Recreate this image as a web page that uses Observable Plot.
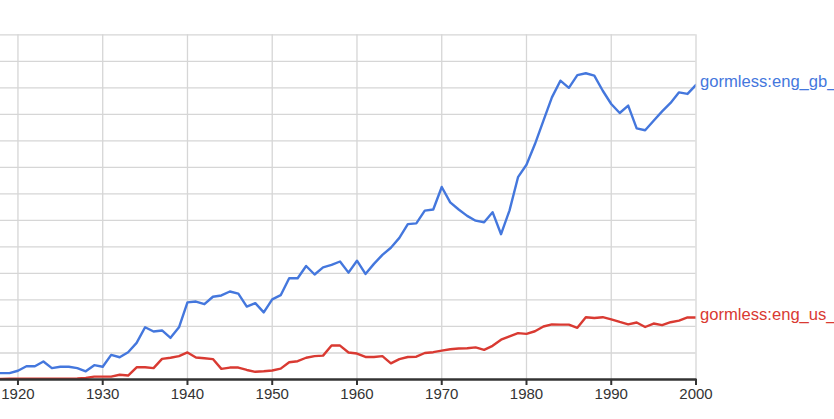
<!DOCTYPE html>
<html>
<head>
<meta charset="utf-8">
<script src="https://cdn.jsdelivr.net/npm/d3@7"></script>
<script src="https://cdn.jsdelivr.net/npm/@observablehq/plot@0.6"></script>
<style>
  html, body { margin: 0; padding: 0; background: #fff; overflow: hidden; }
  #chart svg { display: block; }
</style>
</head>
<body>
<div id="chart"></div>
<script>
const years = d3.range(1917, 2001);
const gbValues = [
  0.24, 0.24, 0.24, 0.33, 0.50, 0.50, 0.68, 0.43, 0.48, 0.48,
  0.43, 0.31, 0.54, 0.48, 0.93, 0.84, 1.03, 1.38, 1.97, 1.81,
  1.85, 1.57, 1.97, 2.91, 2.94, 2.84, 3.12, 3.17, 3.32, 3.24,
  2.75, 2.88, 2.53, 3.02, 3.18, 3.82, 3.82, 4.28, 3.96, 4.23,
  4.32, 4.45, 4.03, 4.48, 3.98, 4.36, 4.70, 4.97, 5.34, 5.86,
  5.89, 6.37, 6.41, 7.26, 6.68, 6.41, 6.17, 5.99, 5.93, 6.31,
  5.48, 6.38, 7.63, 8.10, 8.88, 9.76, 10.64, 11.27, 11.00, 11.48,
  11.55, 11.46, 10.89, 10.39, 10.05, 10.33, 9.47, 9.40, 9.76, 10.11,
  10.43, 10.83, 10.77, 11.11
];
const usValues = [
  0.02, 0.02, 0.03, 0.03, 0.03, 0.03, 0.03, 0.03, 0.03, 0.03,
  0.04, 0.06, 0.11, 0.11, 0.11, 0.18, 0.15, 0.46, 0.46, 0.43,
  0.78, 0.82, 0.88, 1.02, 0.83, 0.80, 0.77, 0.40, 0.45, 0.45,
  0.36, 0.29, 0.31, 0.34, 0.41, 0.65, 0.69, 0.82, 0.88, 0.90,
  1.28, 1.28, 1.02, 0.98, 0.85, 0.85, 0.88, 0.61, 0.77, 0.85,
  0.86, 1.00, 1.03, 1.09, 1.14, 1.17, 1.18, 1.21, 1.12, 1.27,
  1.50, 1.63, 1.75, 1.72, 1.82, 2.00, 2.08, 2.07, 2.07, 1.95,
  2.35, 2.32, 2.35, 2.27, 2.17, 2.08, 2.15, 1.98, 2.11, 2.05,
  2.16, 2.22, 2.34, 2.34
];
const seriesNames = ["gormless:eng_gb_2012", "gormless:eng_us_2012"];
const seriesColors = ["#4477dd", "#d93a32"];
const xTicks = [1920, 1930, 1940, 1950, 1960, 1970, 1980, 1990, 2000];
const yGrid = d3.range(1, 14);
const xStart = 1917.94, xEnd = 2000;

const rows = [];
[gbValues, usValues].forEach((vals, i) => {
  vals.forEach((v, j) => rows.push({year: years[j], value: v, series: seriesNames[i]}));
});
const lastRows = seriesNames.map((s, i) => ({
  year: years[years.length - 1],
  value: [gbValues, usValues][i][years.length - 1],
  series: s
}));

const chart = Plot.plot({
  width: 834,
  height: 419,
  marginLeft: 0,
  marginRight: 138.5,
  marginTop: 34.3,
  marginBottom: 40,
  style: {fontFamily: "Liberation Sans, Arial, sans-serif", background: "#fff", overflow: "hidden"},
  x: {domain: [xStart, xEnd], axis: null},
  y: {domain: [0, 13], axis: null},
  color: {domain: seriesNames, range: seriesColors},
  marks: [
    Plot.ruleY(yGrid, {x1: xStart, x2: xEnd, stroke: "#d6d6d6", strokeWidth: 1.3}),
    Plot.ruleX(xTicks, {y1: 0, y2: 13, stroke: "#d6d6d6", strokeWidth: 1.3}),
    Plot.line(rows, {x: "year", y: "value", z: "series", stroke: "series", strokeWidth: 2.4, clip: true}),
    Plot.ruleY([0], {x1: xStart, x2: xEnd + 0.12, stroke: "#333", strokeWidth: 2.6}),
    Plot.axisX({ticks: xTicks, tickFormat: d => String(d), tickSize: 6, strokeWidth: 2, stroke: "#333",
      tickPadding: 3, fontSize: 15, color: "#333", anchor: "bottom", label: null}),
    Plot.text(lastRows, {x: "year", y: "value", text: "series", fill: "series", textAnchor: "start",
      dx: 4, dy: -3, fontSize: 16.6})
  ]
});
document.getElementById("chart").appendChild(chart);
</script>
</body>
</html>
